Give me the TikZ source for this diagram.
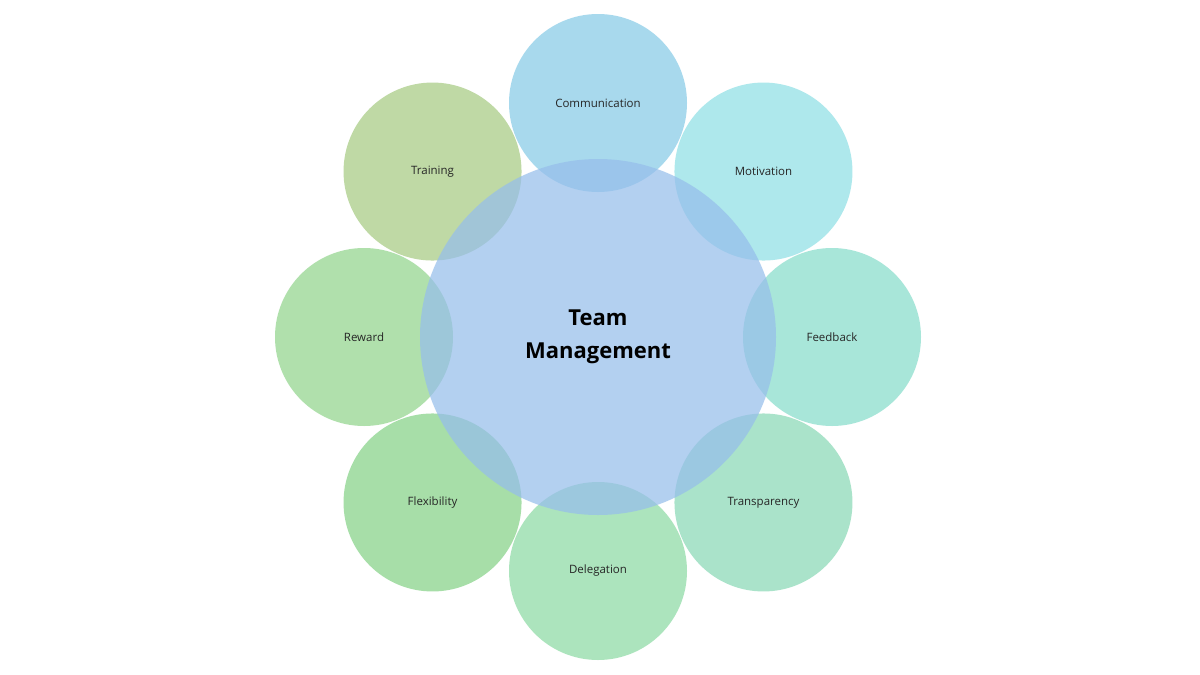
\documentclass[tikz,border=0pt]{standalone}
\usepackage{fontspec}
\setmainfont{Open Sans}
\usetikzlibrary{positioning,calc}

\definecolor{hubblue}{RGB}{150,190,235}
\definecolor{cComm}{RGB}{140,205,232}
\definecolor{cMoti}{RGB}{148,225,230}
\definecolor{cFeed}{RGB}{140,222,205}
\definecolor{cTran}{RGB}{142,218,185}
\definecolor{cDele}{RGB}{145,220,168}
\definecolor{cFlex}{RGB}{138,212,140}
\definecolor{cRewa}{RGB}{150,214,145}
\definecolor{cTrai}{RGB}{170,205,135}

\tikzset{
	petal/.style={circle, minimum size=178pt, inner sep=0pt, fill opacity=0.75, text opacity=1, font=\fontsize{11.5pt}{13pt}\selectfont, text=black!85},
	hub/.style={circle, minimum size=356pt, inner sep=0pt, fill=hubblue, fill opacity=0.72, text opacity=1, font=\bfseries\fontsize{22pt}{33pt}\selectfont, align=center}
}

\begin{document}
\begin{tikzpicture}[x=1pt,y=-1pt]
	\useasboundingbox (0,0) rectangle (1200,675);
	\fill[white] (0,0) rectangle (1200,675);
	
	%Petals
	\foreach \ang/\name/\col/\lbl in {-90/comm/cComm/Communication, -45/moti/cMoti/Motivation, 0/feed/cFeed/Feedback, 45/tran/cTran/Transparency, 90/dele/cDele/Delegation, 135/flex/cFlex/Flexibility, 180/rewa/cRewa/Reward, 225/trai/cTrai/Training}
	{
		\node[petal, fill=\col] (\name) at ($(598,337)+(\ang:234)$) {\lbl};
	}
	
	%Centre
	\node[hub] (team) at (598,337) {Team\\Management};
\end{tikzpicture}
\end{document}
